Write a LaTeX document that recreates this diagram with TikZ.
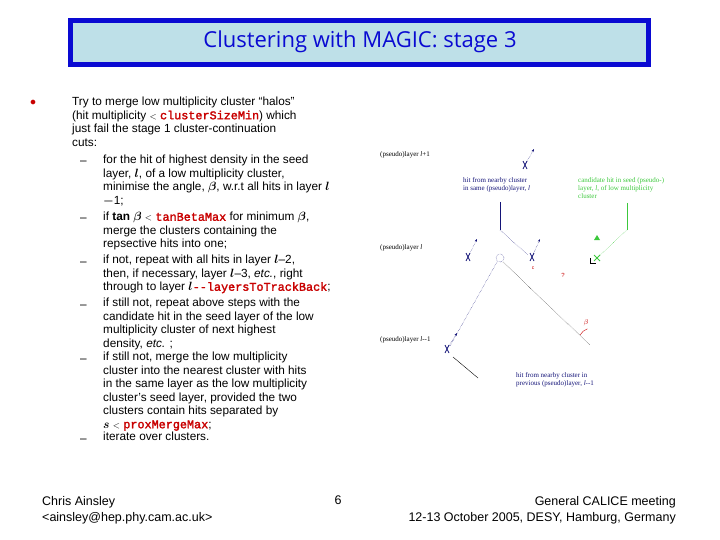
\documentclass[tikz,border=0pt]{standalone}
\usepackage{amsmath,amssymb}
\usepackage{fontspec}
\setmainfont{Liberation Sans}
\newfontfamily\titlefont{Open Sans}
\newfontfamily\labelfont{Liberation Serif}
\newfontfamily\codefont{Liberation Mono}[FakeBold=2]
\usetikzlibrary{arrows.meta}
\definecolor{titlebg}{RGB}{190,224,232}
\definecolor{titleblue}{RGB}{10,10,210}
\definecolor{codered}{RGB}{200,0,0}
\definecolor{hitblue}{RGB}{20,20,120}
\definecolor{hitgreen}{RGB}{60,200,60}
\newcommand{\code}[1]{{\color{codered}\codefont #1}}
\tikzset{
  body/.style={anchor=north west, align=left, inner sep=0pt, font=\fontsize{11.8}{13.5}\selectfont},
  itemdash/.style={anchor=base west, inner sep=0pt, font=\fontsize{11.8}{13.5}\selectfont},
  lab/.style={anchor=west, inner sep=0pt, align=left, font=\labelfont\fontsize{7}{8}\selectfont},
  hit/.style={hitblue, thick},
  trail/.style={hitblue, densely dotted, -{Stealth[length=3pt]}},
  foot/.style={inner sep=0pt, font=\fontsize{12.5}{16}\selectfont}
}
\begin{document}
\begin{tikzpicture}[x=1pt,y=-1pt]
\useasboundingbox (0,0) rectangle (720,540);

% title
\fill[titleblue] (68,18) rectangle (651,67);
\fill[titlebg] (73,23) rectangle (646,62);
\node[titleblue, font=\titlefont\fontsize{22}{24}\selectfont] (title) at (360,42) {Clustering with MAGIC: stage 3};

% bullet text
\node[codered, font=\large] (bullet) at (33,103) {$\bullet$};
\node[body] (intro) at (72,97) {Try to merge low multiplicity cluster ``halos''\\(hit multiplicity {\small$<$} \code{clusterSizeMin}) which\\just fail the stage 1 cluster-continuation\\cuts:};
\foreach \y in {155,212,255,298,352,432}
  \node[itemdash] at (80,\y+10) {--};
\node[body] (s1) at (103,155) {for the hit of highest density in the seed\\layer, $\boldsymbol{l}$, of a low multiplicity cluster,\\minimise the angle, $\boldsymbol{\beta}$, w.r.t all hits in layer $\boldsymbol{l}$\\$\boldsymbol{-}$1;};
\node[body] (s2) at (103,212) {if \textbf{tan} $\boldsymbol{\beta}$ {\small$<$} \code{tanBetaMax} for minimum $\boldsymbol{\beta}$,\\merge the clusters containing the\\repsective hits into one;};
\node[body] (s3) at (103,255) {if not, repeat with all hits in layer $\boldsymbol{l}$--2,\\then, if necessary, layer $\boldsymbol{l}$--3, \textit{etc.}, right\\through to layer $\boldsymbol{l}$\code{--layersToTrackBack};};
\node[body] (s4) at (103,298) {if still not, repeat above steps with the\\candidate hit in the seed layer of the low\\multiplicity cluster of next highest\\density, \textit{etc.} ;};
\node[body] (s5) at (103,352) {if still not, merge the low multiplicity\\cluster into the nearest cluster with hits\\in the same layer as the low multiplicity\\cluster's seed layer, provided the two\\clusters contain hits separated by\\$\boldsymbol{s}$ {\small$<$} \code{proxMergeMax};};
\node[body] (s6) at (103,432) {iterate over clusters.};

% diagram
\node[lab] (lp1) at (380,155) {(pseudo)layer \textit{l}+1};
\node[lab] (l0) at (380,248) {(pseudo)layer \textit{l}};
\node[lab] (lm1) at (380,340) {(pseudo)layer \textit{l}--1};

\coordinate (hA) at (525,165); \coordinate (hAt) at (534,149);
\coordinate (hB) at (532,257); \coordinate (hBt) at (540,239);
\coordinate (hC) at (468,257); \coordinate (hCt) at (477,239);
\coordinate (hD) at (447,349); \coordinate (hDt) at (457,333);
\coordinate (hG) at (597,258);
\draw[trail] (hA) -- (hAt);
\draw[trail] (hB) -- (hBt);
\draw[trail] (hC) -- (hCt);
\draw[trail] (hD) -- (hDt);
\foreach \p in {hA,hB,hC,hD}
  \draw[hit] ([shift={(-2,-4)}]\p) -- ([shift={(2,4)}]\p) ([shift={(-2,4)}]\p) -- ([shift={(2,-4)}]\p);
\draw[hitgreen, thick] ([shift={(-3,-3)}]hG) -- ([shift={(3,3)}]hG) ([shift={(-3,3)}]hG) -- ([shift={(3,-3)}]hG);
\fill[hitgreen] (594,240) -- (600,240) -- (597,235) -- cycle;
\draw[thick] (590,258) -- (590,263) -- (596,263);

\node[lab, text=hitblue] (nearS) at (463,185) {hit from nearby cluster\\in same (pseudo)layer, \textit{l}};
\node[lab, text=hitgreen] (cand) at (578,188) {candidate hit in seed (pseudo-)\\layer, \textit{l}, of low multiplicity\\cluster};
\node[lab, text=hitblue] (nearP) at (516,380) {hit from nearby cluster in\\previous (pseudo)layer, \textit{l}--1};

\draw[hitblue, thick] (500,202) -- (500,230);
\draw[hitblue, densely dotted] (500,230) -- (528,255);
\draw[hitgreen, thick] (627,203) -- (627,230);
\draw[hitgreen, densely dotted] (627,230) -- (600,255);

\draw[hitblue, densely dotted] (500,258) circle (4);
\draw[hitblue, densely dotted] (497,262) -- (450,346);
\draw[densely dotted] (503,262) -- (590,345);
\draw[black] (453,357) -- (478,378);
\draw[codered] (580,335) arc (210:250:14);
\node[codered, font=\labelfont\fontsize{7}{8}\selectfont] (beta) at (586,323) {$\beta$};
\node[codered, font=\fontsize{6}{7}\selectfont] (q) at (563,275) {?};
\node[codered, font=\fontsize{5}{6}\selectfont] (m) at (533,268) {c};

% footer
\node[foot, anchor=north west, align=left] (author) at (42,496) {Chris Ainsley\\\textless ainsley@hep.phy.cam.ac.uk\textgreater};
\node[foot, anchor=north] (page) at (338,496) {6};
\node[foot, anchor=north east, align=right] (meet) at (676,496) {General CALICE meeting\\12-13 October 2005, DESY, Hamburg, Germany};
\end{tikzpicture}
\end{document}
